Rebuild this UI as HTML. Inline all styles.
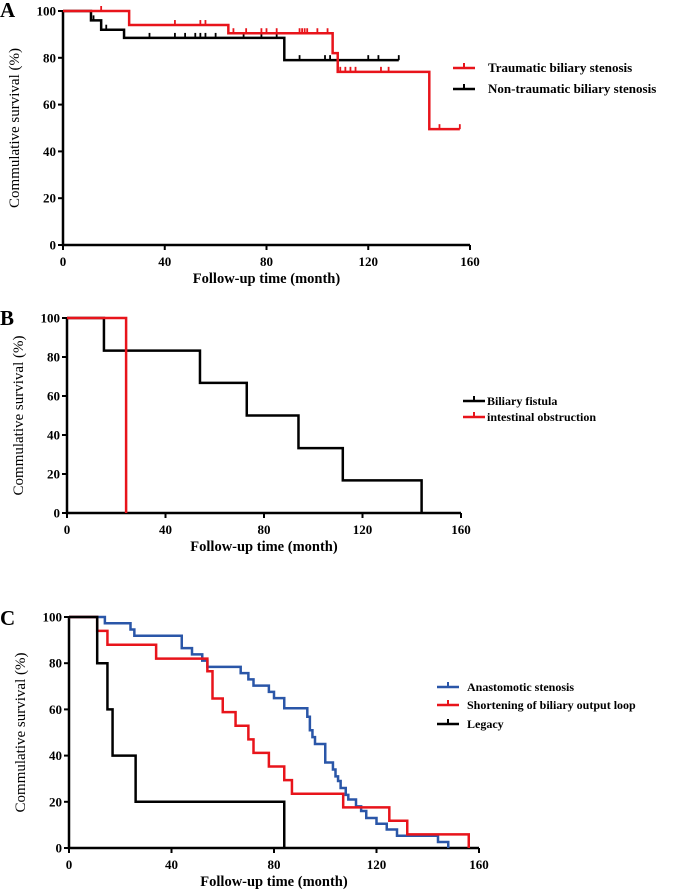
<!DOCTYPE html>
<html><head><meta charset="utf-8">
<style>
html,body{margin:0;padding:0;background:#fff;}
svg{display:block;font-family:"Liberation Serif",serif;font-weight:bold;}
</style></head>
<body>
<svg id="chart" width="685" height="891" viewBox="0 0 685 891"></svg>
<script>
// Panel A data
const aRedT = [0,26,65,106,108,144,156];
const aRedS = [100,94,90.5,82,74,49.5,49.5];
const aRedCens = [[15,100],[44,94],[54,94],[56,94],[67,90.5],[72,90.5],[78,90.5],[80,90.5],[84,90.5],[93,90.5],[94,90.5],[95,90.5],[96,90.5],[100,90.5],[104,90.5],[109,74],[111,74],[113,74],[115,74],[125,74],[128,74],[148,49.5],[156,49.5]];
const aBlkT = [0,11,15,24,87,132];
const aBlkS = [100,96,92,88.5,79,79];
const aBlkCens = [[12,96],[17,92],[34,88.5],[44,88.5],[48,88.5],[52,88.5],[54,88.5],[56,88.5],[60,88.5],[71,88.5],[78,88.5],[84,88.5],[93,79],[103,79],[105,79],[120,79],[124,79],[132,79]];
// Panel B data
const bBlkT = [0,15,54,73,94,112,144];
const bBlkS = [100,83.3,66.7,50,33.3,16.7,0];
const bRedT = [0,24];
const bRedS = [100,0];
// Panel C data
const cBlueT = [0,14,24,25.5,44,48,52,54,67,70,72,78,80,84,93,94,95,96,100,103,104,105,106,108,109,112,114,116,120,124,128,144,148];
const cBlueS = [100,97.3,94.6,91.9,86.5,83.8,81.1,78.4,75.7,73,70.3,67.6,64.9,60.5,56.8,51,48,45,37,34,31,29,26,23,21,18,16,13,10.5,8,5.3,2.6,0];
const cRedT = [0,11,15,34,54,56,60,65,70,72,78,84,87,107,125,132,156];
const cRedS = [100,94,88,82,76.5,64.7,58.8,52.9,47,41.2,35.3,29.4,23.5,17.6,11.8,5.9,0];
const cBlkT = [0,11,15,17,26,84];
const cBlkS = [100,80,60,40,20,0];
const xTicks = [0,40,80,120,160];
const yTicks = [0,20,40,60,80,100];

const svg = document.getElementById('chart');
const NS = 'http://www.w3.org/2000/svg';
function mk(tag, attrs, parent){const e=document.createElementNS(NS,tag);for(const k in attrs)e.setAttribute(k,attrs[k]);(parent||svg).appendChild(e);return e;}

function panel(id, letter, x0, x1, y100, y0, letterY){
  const g = mk('g',{});
  
  
  const sx = v => x0 + (x1-x0)*v/160;
  const sy = v => y0 + (y100-y0)*v/100;
  const l = mk('text',{x:0,y:letterY,'font-size':21},g); l.textContent=letter;
  
  
  const ax = mk('path',{d:`M${x0} ${y100}V${y0}H${x1}`,stroke:'#000','stroke-width':2.5,fill:'none'},g);
  
  
  xTicks.forEach(t=>{
    mk('line',{x1:sx(t),x2:sx(t),y1:y0,y2:y0+5,stroke:'#000','stroke-width':2},g);
    const tx = mk('text',{x:sx(t),y:y0+21,'font-size':13,'text-anchor':'middle'},g); tx.textContent=t;
    
    
  });
  yTicks.forEach(t=>{
    mk('line',{x1:x0-5,x2:x0,y1:sy(t),y2:sy(t),stroke:'#000','stroke-width':2},g);
    const tx = mk('text',{x:x0-7,y:sy(t)+4.5,'font-size':13,'text-anchor':'end'},g); tx.textContent=t;
    
    
  });
  const xt = mk('text',{x:(x0+x1)/2,y:y0+38,'font-size':14.5,'text-anchor':'middle'},g); xt.textContent='Follow-up time (month)';
  
  
  const cy=(y0+y100)/2;
  const yt = mk('text',{x:0,y:0,'font-size':15,'font-weight':'normal','text-anchor':'middle',transform:`translate(${x0-44},${cy}) rotate(-90)`},g); yt.textContent='Commulative survival (%)';
  
  
  return {g,sx,sy};
}
function curve(p, T, S, color, name, cens){
  let d = `M${p.sx(T[0])} ${p.sy(S[0])}`;
  for(let i=1;i<T.length;i++){ d += `H${p.sx(T[i])}V${p.sy(S[i])}`; }
  const e = mk('path',{d,stroke:color,'stroke-width':2.5,fill:'none'},p.g);
  
  
  (cens||[]).forEach(c=>{
    const m = mk('line',{x1:p.sx(c[0]),x2:p.sx(c[0]),y1:p.sy(c[1]),y2:p.sy(c[1])-5,stroke:color,'stroke-width':1.8},p.g);
    
    
  });
}
function legend(p, x, y, color, label, lx, fs){
  mk('line',{x1:x,x2:x+22,y1:y,y2:y,stroke:color,'stroke-width':2.5},p.g);
  mk('line',{x1:x+11,x2:x+11,y1:y,y2:y-5,stroke:color,'stroke-width':2},p.g);
  const t = mk('text',{x:lx,y:y+4,'font-size':fs},p.g); t.textContent=label;
  
  
}

const A = panel('a','A',63,470,11,245,17);
curve(A,aBlkT,aBlkS,'#000','non-traumatic-curve',aBlkCens);
curve(A,aRedT,aRedS,'#e8141b','traumatic-curve',aRedCens);
legend(A,453,68,'#e8141b','Traumatic biliary stenosis',488,13);
legend(A,453,89,'#000','Non-traumatic biliary stenosis',488,13);

const B = panel('b','B',67,461,318,513,325);
curve(B,bBlkT,bBlkS,'#000','biliary-fistula-curve');
curve(B,bRedT,bRedS,'#e8141b','intestinal-obstruction-curve');
legend(B,463,401,'#000','Biliary fistula',487,12);
legend(B,463,417,'#e8141b','intestinal obstruction',487,12);

const C = panel('c','C',69,479,617,848,625);
curve(C,cBlueT,cBlueS,'#2a56a8','anastomotic-stenosis-curve');
curve(C,cRedT,cRedS,'#e8141b','shortening-loop-curve');
curve(C,cBlkT,cBlkS,'#000','legacy-curve');
legend(C,437,687,'#2a56a8','Anastomotic stenosis',467,12);
legend(C,437,705,'#e8141b','Shortening of biliary output loop',467,12);
legend(C,437,724,'#000','Legacy',467,12);
</script>
</body></html>
